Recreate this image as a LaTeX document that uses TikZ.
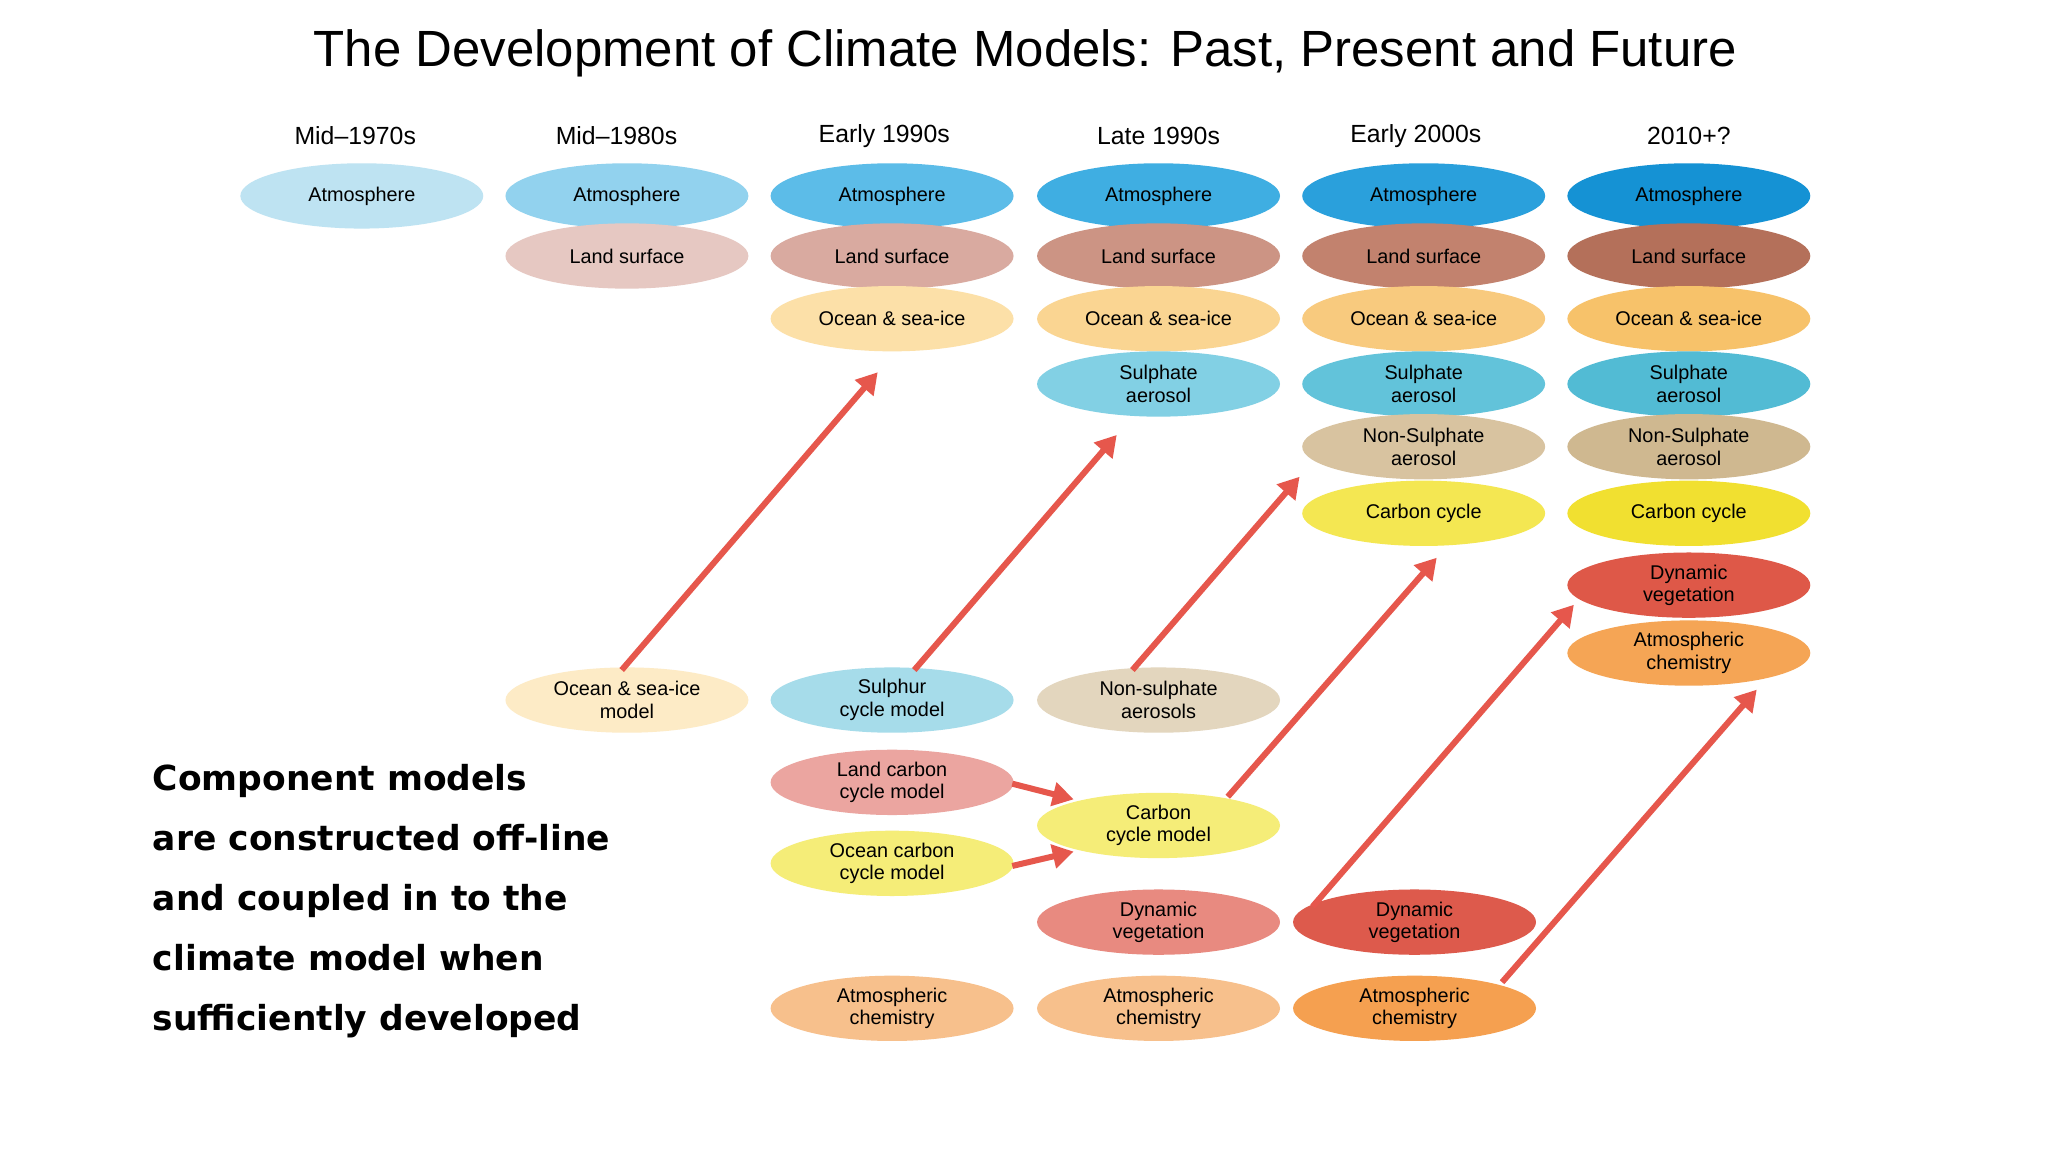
\documentclass[tikz,border=0pt]{standalone}
\usepackage{fontspec}
\setmainfont{Liberation Sans}
\newfontfamily\boldfont{DejaVu Sans}
\usetikzlibrary{shapes.geometric,arrows.meta}
\definecolor{at1}{HTML}{BEE3F2}\definecolor{at2}{HTML}{92D2EE}\definecolor{at3}{HTML}{5CBCE8}
\definecolor{at4}{HTML}{3FAEE2}\definecolor{at5}{HTML}{2AA0DC}\definecolor{at6}{HTML}{1592D4}
\definecolor{la2}{HTML}{E6C8C2}\definecolor{la3}{HTML}{D9AAA0}\definecolor{la4}{HTML}{CC9484}
\definecolor{la5}{HTML}{C2826E}\definecolor{la6}{HTML}{B4705A}
\definecolor{oc1}{HTML}{FDEBC6}\definecolor{oc3}{HTML}{FCE0A8}\definecolor{oc4}{HTML}{FAD592}
\definecolor{oc5}{HTML}{F8CA7E}\definecolor{oc6}{HTML}{F7C26A}
\definecolor{su1}{HTML}{A6DCEA}\definecolor{su4}{HTML}{82D0E4}\definecolor{su5}{HTML}{62C3DA}\definecolor{su6}{HTML}{52BBD4}
\definecolor{ns1}{HTML}{E3D6BE}\definecolor{ns5}{HTML}{D8C3A0}\definecolor{ns6}{HTML}{CFB890}
\definecolor{cc1}{HTML}{F5ED78}\definecolor{cc5}{HTML}{F4E752}\definecolor{cc6}{HTML}{F1E030}
\definecolor{lc1}{HTML}{EBA5A0}
\definecolor{dv1}{HTML}{E88A80}\definecolor{dv5}{HTML}{DD5A4C}\definecolor{dv6}{HTML}{DE5848}
\definecolor{ac1}{HTML}{F8CDA0}\definecolor{ac3}{HTML}{F7C08C}\definecolor{ac5}{HTML}{F5A050}\definecolor{ac6}{HTML}{F5A555}
\definecolor{arr}{HTML}{E6574C}
\tikzset{
 comp/.style={ellipse,minimum width=93pt,minimum height=25pt,inner sep=0pt,align=center,font=\fontsize{7.6}{8.6}\selectfont,fill=#1},
 hdr/.style={font=\fontsize{9.5}{11}\selectfont},
 conn/.style={draw=arr,line width=2.3pt,-{Triangle[length=8pt,width=9pt]}}
}
\begin{document}
\begin{tikzpicture}[x=0.5pt,y=-0.5pt]
\useasboundingbox (0,0) rectangle (1568,882);
\fill[white] (0,0) rectangle (1568,882);
\node[font=\fontsize{19.5}{21}\selectfont] (title) at (785,41) {The Development of Climate Models: Past, Present and Future};
\foreach \x/\t [count=\i] in {272/Mid--1970s,472/Mid--1980s,677/Early 1990s,887/Late 1990s,1084/Early 2000s,1293/2010+?}
 \node[hdr] (h\i) at (\x,104) {\t};
% columns
\node[comp=at1] (a1) at (277,150) {Atmosphere};
\node[comp=at2] (a2) at (480,150) {Atmosphere};
\node[comp=la2] (l2) at (480,196) {Land surface};
\node[comp=at3] (a3) at (683,150) {Atmosphere};
\node[comp=la3] (l3) at (683,196) {Land surface};
\node[comp=oc3] (o3) at (683,244) {Ocean \& sea-ice};
\node[comp=at4] (a4) at (887,150) {Atmosphere};
\node[comp=la4] (l4) at (887,196) {Land surface};
\node[comp=oc4] (o4) at (887,244) {Ocean \& sea-ice};
\node[comp=su4] (s4) at (887,294) {Sulphate\\aerosol};
\node[comp=at5] (a5) at (1090,150) {Atmosphere};
\node[comp=la5] (l5) at (1090,196) {Land surface};
\node[comp=oc5] (o5) at (1090,244) {Ocean \& sea-ice};
\node[comp=su5] (s5) at (1090,294) {Sulphate\\aerosol};
\node[comp=ns5] (n5) at (1090,342) {Non-Sulphate\\aerosol};
\node[comp=cc5] (c5) at (1090,393) {Carbon cycle};
\node[comp=at6] (a6) at (1293,150) {Atmosphere};
\node[comp=la6] (l6) at (1293,196) {Land surface};
\node[comp=oc6] (o6) at (1293,244) {Ocean \& sea-ice};
\node[comp=su6] (s6) at (1293,294) {Sulphate\\aerosol};
\node[comp=ns6] (n6) at (1293,342) {Non-Sulphate\\aerosol};
\node[comp=cc6] (c6) at (1293,393) {Carbon cycle};
\node[comp=dv6] (d6) at (1293,448) {Dynamic\\vegetation};
\node[comp=ac6] (x6) at (1293,500) {Atmospheric\\chemistry};
% component models
\node[comp=oc1] (om) at (480,536) {Ocean \& sea-ice\\model};
\node[comp=su1] (sm) at (683,536) {Sulphur\\cycle model};
\node[comp=ns1] (nm) at (887,536) {Non-sulphate\\aerosols};
\node[comp=lc1] (lcm) at (683,599) {Land carbon\\cycle model};
\node[comp=cc1] (ocm) at (683,661) {Ocean carbon\\cycle model};
\node[comp=cc1] (ccm) at (887,632) {Carbon\\cycle model};
\node[comp=dv1] (dv1) at (887,706) {Dynamic\\vegetation};
\node[comp=dv5] (dv2) at (1083,706) {Dynamic\\vegetation};
\node[comp=ac3] (ac1) at (683,772) {Atmospheric\\chemistry};
\node[comp=ac3] (ac2) at (887,772) {Atmospheric\\chemistry};
\node[comp=ac5] (ac3) at (1083,772) {Atmospheric\\chemistry};
% arrows
\coordinate (t1) at (672,285); \coordinate (t2) at (855,333);
\coordinate (t3) at (995,365); \coordinate (t4) at (1100,427);
\coordinate (t5) at (1205,463); \coordinate (t6) at (1345,528);
\coordinate (t7) at (822,612); \coordinate (t8) at (822,652);
\coordinate (s1) at (476,513); \coordinate (s2) at (700,513);
\coordinate (s3) at (867,513); \coordinate (s4) at (940,610);
\coordinate (s5) at (1005,694); \coordinate (s6) at (1150,752);
\coordinate (s7) at (775,600); \coordinate (s8) at (775,663);
\foreach \i in {1,...,8} \draw[conn] (s\i) -- (t\i);
\node[anchor=north west,align=left,font=\boldfont\bfseries\fontsize{13.2}{23}\selectfont] (txt) at (110,578)
 {Component models\\are constructed off-line\\and coupled in to the\\climate model when\\sufficiently developed};
\end{tikzpicture}
\end{document}
